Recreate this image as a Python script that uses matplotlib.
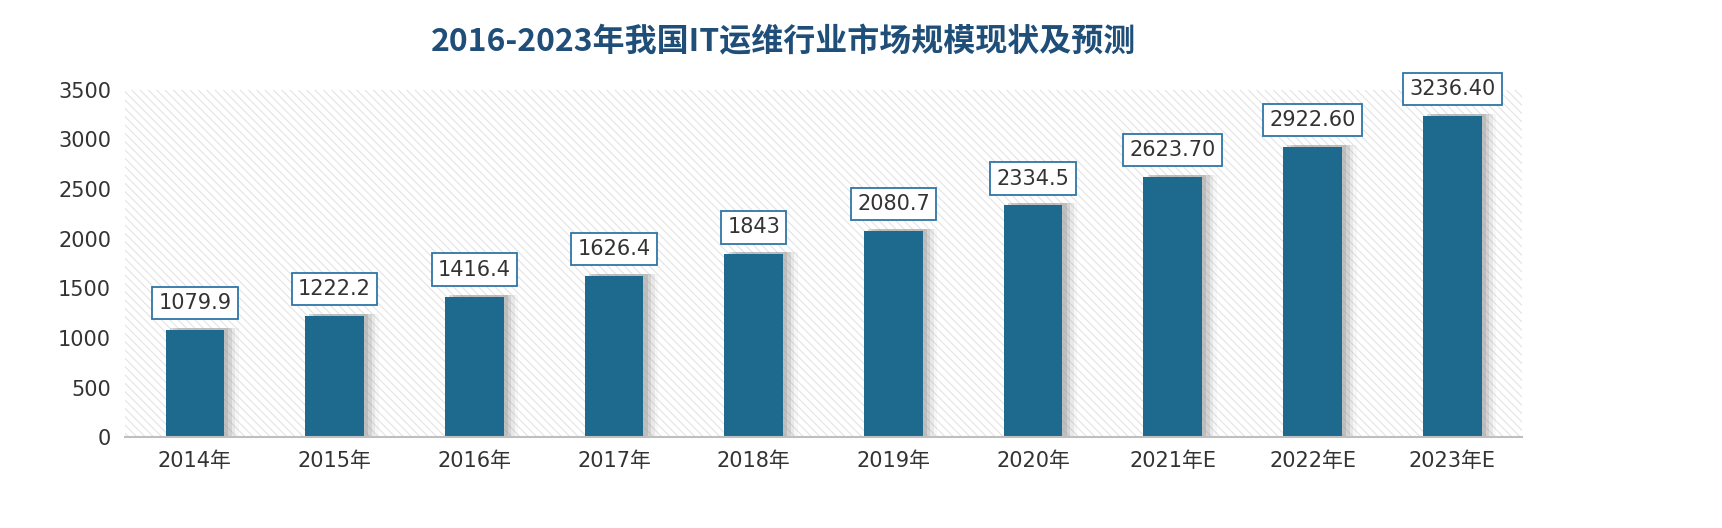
import matplotlib
matplotlib.use("Agg")
import matplotlib.pyplot as plt
from matplotlib.patches import Rectangle

plt.rcParams['font.family'] = ['DejaVu Sans', 'Noto Sans CJK SC']
plt.rcParams['hatch.linewidth'] = 0.8

categories = ["2014年", "2015年", "2016年", "2017年", "2018年", "2019年", "2020年", "2021年E", "2022年E", "2023年E"]
values = [1079.9, 1222.2, 1416.4, 1626.4, 1843, 2080.7, 2334.5, 2623.70, 2922.60, 3236.40]
labels = ["1079.9", "1222.2", "1416.4", "1626.4", "1843", "2080.7", "2334.5", "2623.70", "2922.60", "3236.40"]
yticks = [0, 500, 1000, 1500, 2000, 2500, 3000, 3500]

fig = plt.figure(figsize=(17.22, 5.28), dpi=100)
ax = fig.add_axes([0.0726, 0.172, 0.8113, 0.658])
ax.set_xlim(-0.5, 9.5)
ax.set_ylim(0, 3500)

bg = Rectangle((-0.5, 0), 10, 3500, facecolor='white', edgecolor='#e3e3e3',
               hatch='\\\\\\\\', linewidth=0, zorder=0)
ax.add_patch(bg)

x = list(range(len(categories)))
for i, v in enumerate(values):
    for k, a in enumerate([0.35, 0.25, 0.15, 0.08]):
        ax.bar(i + 0.03 + 0.025 * k, v + 20, width=0.42, color='#9a9a9a', alpha=a, zorder=1, linewidth=0)
ax.bar(x, values, width=0.42, color='#1d6a8e', zorder=2, linewidth=0)

for i, (v, t) in enumerate(zip(values, labels)):
    ax.text(i, v + 170, t, ha='center', va='bottom', fontsize=15, color='#333333', zorder=3,
            bbox=dict(boxstyle='square,pad=0.3', facecolor='white', edgecolor='#2e75a6', linewidth=1.3))

ax.set_xticks(x)
ax.set_xticklabels(categories, fontsize=15, color='#333333')
ax.set_yticks(yticks)
ax.set_yticklabels([str(t) for t in yticks], fontsize=15, color='#333333')
ax.tick_params(length=0, pad=10)
for s in ['top', 'right', 'left']:
    ax.spines[s].set_visible(False)
ax.spines['bottom'].set_color('#bfbfbf')
ax.spines['bottom'].set_linewidth(1.5)

fig.text(0.455, 0.92, "2016-2023年我国IT运维行业市场规模现状及预测", ha='center', va='center',
         fontsize=23, fontweight='bold', color='#1f4e79',
         family=['Noto Sans CJK SC', 'DejaVu Sans'])

fig.savefig("out.png", dpi=100, facecolor='white')
